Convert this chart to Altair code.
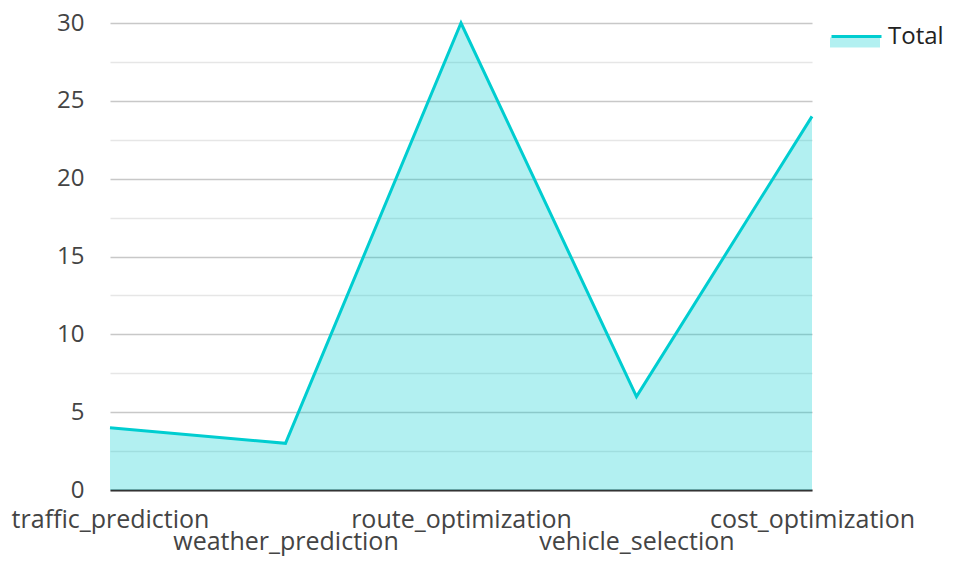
import altair as alt
import pandas as pd

categories = ["traffic_prediction", "weather_prediction", "route_optimization",
              "vehicle_selection", "cost_optimization"]
totals = [4, 3, 30, 6, 24]
series_name = "Total"
y_ticks = [0, 2.5, 5, 7.5, 10, 12.5, 15, 17.5, 20, 22.5, 25, 27.5, 30]
second_row = ["weather_prediction", "vehicle_selection"]

df = pd.DataFrame({"category": categories, "value": totals, "series": [series_name] * len(categories)})

TEAL = "#00cdd0"
FONT = "Open Sans"
FS = 24

x_enc = alt.X(
    "category:N", sort=categories, title=None,
    scale=alt.Scale(type="point", padding=0),
    axis=alt.Axis(
        labelAngle=0, ticks=False, grid=False, labelLimit=0, labelFontSize=25,
        labelOverlap=False, labelBound=False, labelBaseline="alphabetic",
        labelPadding=alt.condition(
            "indexof(" + str(second_row) + ", datum.value) >= 0",
            alt.value(59), alt.value(37)),
    ),
)
y_enc = alt.Y(
    "value:Q", title=None,
    scale=alt.Scale(domain=[0, 30], nice=False),
    axis=alt.Axis(
        values=y_ticks, labelExpr="datum.value % 5 == 0 ? datum.label : ''",
        ticks=False, domain=False, labelPadding=26,
        gridColor=alt.condition("datum.value % 5 == 0", alt.value("#c8c8c8"), alt.value("#e6e6e6")),
        gridWidth=1.5,
    ),
)

area = alt.Chart(df).mark_area(fillOpacity=0.3, interpolate="linear").encode(
    x=x_enc, y=y_enc,
    fill=alt.Fill("series:N", scale=alt.Scale(range=[TEAL]),
                  legend=alt.Legend(title=None, orient="none", legendX=720, legendY=-13,
                                    symbolType="M-1,0.1 H1 V0.5 H-1 Z", symbolSize=2500,
                                    symbolOpacity=0.3, symbolStrokeWidth=0,
                                    labelOpacity=0, labelFontSize=FS, labelFont=FONT,
                                    labelOffset=5)),
)
line = alt.Chart(df).mark_line(strokeWidth=3, interpolate="linear").encode(
    x=x_enc, y=y_enc,
    stroke=alt.Stroke("series:N", scale=alt.Scale(domain=[series_name], range=[TEAL]),
                      legend=alt.Legend(title=None, orient="none", legendX=720, legendY=-13,
                                        symbolType="stroke", symbolSize=2500, symbolStrokeWidth=3,
                                        labelFontSize=FS, labelFont=FONT, labelColor="#222222",
                                        labelOffset=5)),
)

chart = alt.layer(area, line).resolve_legend(fill="independent", stroke="independent").properties(
    width=702, height=467,
    autosize=alt.AutoSizeParams(type="none"),
    padding={"left": 102, "top": 15, "right": 133, "bottom": 66},
).configure(font=FONT).configure_view(stroke=None).configure_axis(
    labelFontSize=FS, labelColor="#444444", labelFont=FONT,
).configure_axisX(
    domainColor="#333333", domainWidth=2,
)

chart.save("out.html", embed_options={"renderer": "svg", "actions": False})
